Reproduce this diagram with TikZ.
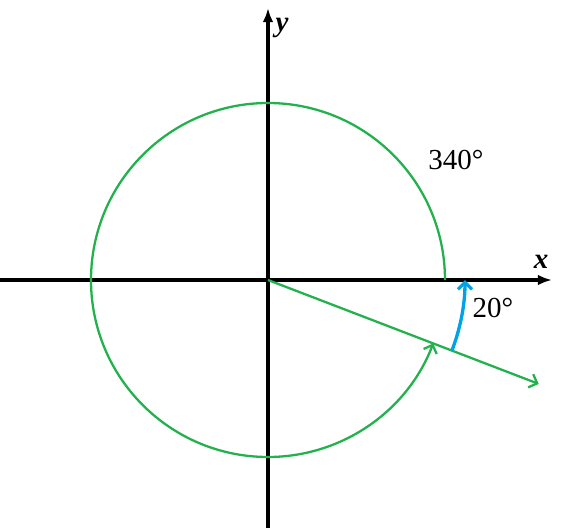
\documentclass[tikz,border=0pt]{standalone}
\usepackage{fontspec}
\setmainfont{Liberation Serif}
\usetikzlibrary{arrows.meta,calc}
\definecolor{green}{RGB}{34,177,76}
\definecolor{blue}{RGB}{0,162,232}

\begin{document}
\begin{tikzpicture}[% one unit is one pixel of the reference
			x=0.02cm,y=0.02cm,
			every node/.style={
				inner sep=0pt,		% labels sit right on their points
				font=\fontsize{16.5}{18}\selectfont
			},
			axis/.style={draw=black,line width=1.9pt,-{Latex[length=8pt,width=6pt]}},
			turn/.style={draw=green,line width=1.3pt,-{Straight Barb[length=4pt,width=8pt]}},
			small/.style={draw=blue,line width=1.9pt,-{Straight Barb[length=4pt,width=8pt]}}
		]
		\useasboundingbox (-268,-248) rectangle (294,280);
		\coordinate (O) at (0,0);
		\coordinate (X0) at (-268,0);
		\coordinate (X1) at (284,0);
		\coordinate (Y0) at (0,-248);
		\coordinate (Y1) at (0,272);
		\coordinate (P) at (-21:290);
		\path
		(X0)edge [axis] (X1)
		(Y0)edge [axis] (Y1)
		(O)edge [turn] (P)
		;
		\draw[turn] ($(O)+(0:177)$) arc[start angle=0,end angle=339,radius=177];
		\draw[small] ($(O)+(-21:197)$) arc[start angle=-21,end angle=0,radius=197];
		\node (xl) at (273,18) {\textbf{\textit{x}}};
		\node (yl) at (14,252) {\textbf{\textit{y}}};
		\node (big) at (188,120) {340\textdegree};
		\node (sm) at (225,-28) {20\textdegree};
	\end{tikzpicture}
\end{document}
